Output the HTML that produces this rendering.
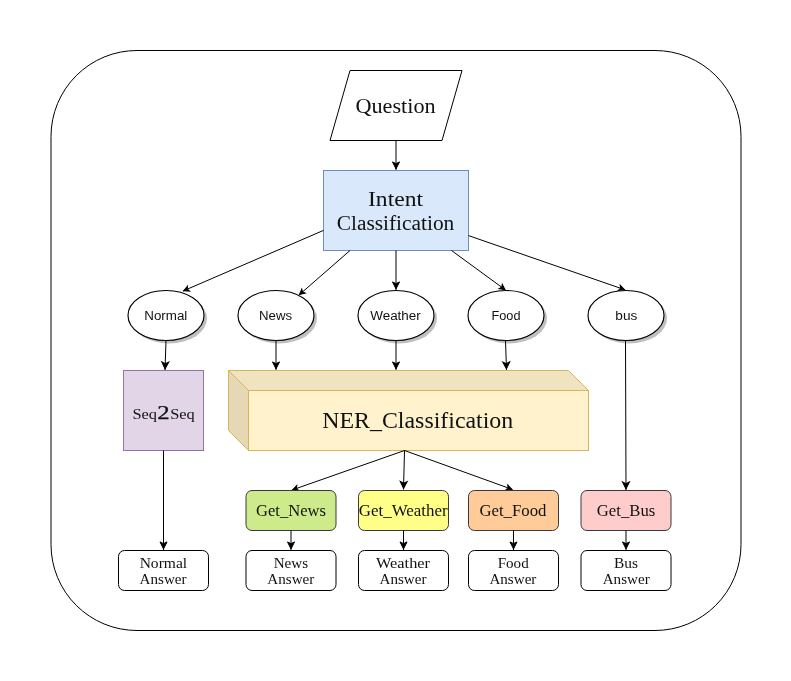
<!DOCTYPE html>
<html><head><meta charset="utf-8">
<style>
html,body{margin:0;padding:0;background:#fff;width:791px;height:681px;overflow:hidden;}
svg{display:block;will-change:transform;}
.s{font-family:"Liberation Serif",serif;fill:#111;}
.a{font-family:"Liberation Sans",sans-serif;fill:#111;}
</style></head>
<body>
<svg width="791" height="681" viewBox="0 0 791 681">
<defs>
<marker id="ar" viewBox="-2 -5 12 10" refX="8.1" refY="0" markerWidth="12" markerHeight="10" markerUnits="userSpaceOnUse" orient="auto" overflow="visible">
<path d="M7,0 L0,-3.5 L1.75,0 L0,3.5 Z" fill="#000" stroke="#000" stroke-width="1" stroke-linejoin="miter"/>
</marker>
<marker id="ar2" viewBox="-2 -5 12 10" refX="6" refY="0" markerWidth="12" markerHeight="10" markerUnits="userSpaceOnUse" orient="auto" overflow="visible">
<path d="M5.3,0 L0,-2.7 L1.3,0 L0,2.7 Z" fill="#000" stroke="#000" stroke-width="1" stroke-linejoin="miter"/>
</marker>
</defs>
<!-- outer container -->
<rect x="51" y="50.5" width="690" height="580" rx="86" ry="86" fill="none" stroke="#000" stroke-width="1"/>

<!-- Question parallelogram -->
<polygon points="350,70.5 462,70.5 442,140.5 330,140.5" fill="#fff" stroke="#000" stroke-width="1"/>
<text class="s" x="395.5" y="112.8" font-size="20" text-anchor="middle" textLength="80.2" lengthAdjust="spacingAndGlyphs">Question</text>

<!-- arrow Question -> Intent -->
<line x1="396" y1="140.5" x2="396" y2="170" stroke="#000" stroke-width="1" marker-end="url(#ar)"/>

<!-- Intent -->
<rect x="323.5" y="170.5" width="145" height="80" fill="#dae8fc" stroke="#6c8ebf"/>
<text class="s" x="395.5" y="205.7" font-size="20" text-anchor="middle" textLength="55" lengthAdjust="spacingAndGlyphs">Intent</text>
<text class="s" x="395.5" y="229.6" font-size="20" text-anchor="middle" textLength="117.5" lengthAdjust="spacingAndGlyphs">Classification</text>

<!-- arrows intent -> ellipses -->
<line x1="323.5" y1="230.4" x2="183" y2="291" stroke="#000" stroke-width="1" marker-end="url(#ar2)"/>
<line x1="350" y1="250.5" x2="299" y2="295" stroke="#000" stroke-width="1" marker-end="url(#ar2)"/>
<line x1="396" y1="250.5" x2="396" y2="290" stroke="#000" stroke-width="1" marker-end="url(#ar)"/>
<line x1="451.5" y1="250.5" x2="505.5" y2="290" stroke="#000" stroke-width="1" marker-end="url(#ar2)"/>
<line x1="468.5" y1="235.6" x2="625" y2="289.8" stroke="#000" stroke-width="1" marker-end="url(#ar2)"/>

<!-- ellipses with shadow -->
<g fill="#000" fill-opacity="0.25">
<ellipse cx="169" cy="318.5" rx="38" ry="25"/>
<ellipse cx="279" cy="318.5" rx="38" ry="25"/>
<ellipse cx="399" cy="318.5" rx="38" ry="25"/>
<ellipse cx="509" cy="318.5" rx="38" ry="25"/>
<ellipse cx="629" cy="318.5" rx="38" ry="25"/>
</g>
<g fill="#fff" stroke="#000" stroke-width="1.15">
<ellipse cx="166" cy="315.5" rx="38" ry="25"/>
<ellipse cx="276" cy="315.5" rx="38" ry="25"/>
<ellipse cx="396" cy="315.5" rx="38" ry="25"/>
<ellipse cx="506" cy="315.5" rx="38" ry="25"/>
<ellipse cx="626" cy="315.5" rx="38" ry="25"/>
</g>
<g class="a" font-size="12" text-anchor="middle">
<text x="165.8" y="319.8" textLength="43" lengthAdjust="spacingAndGlyphs">Normal</text>
<text x="275.6" y="319.8" textLength="33" lengthAdjust="spacingAndGlyphs">News</text>
<text x="395.5" y="319.8" textLength="50.5" lengthAdjust="spacingAndGlyphs">Weather</text>
<text x="506" y="319.8" textLength="29" lengthAdjust="spacingAndGlyphs">Food</text>
<text x="626.3" y="319.8" textLength="22" lengthAdjust="spacingAndGlyphs">bus</text>
</g>

<!-- ellipse -> boxes arrows -->
<line x1="166" y1="340.5" x2="165" y2="370" stroke="#000" stroke-width="1" marker-end="url(#ar)"/>
<line x1="276" y1="340.5" x2="276" y2="370" stroke="#000" stroke-width="1" marker-end="url(#ar)"/>
<line x1="396" y1="340.5" x2="396" y2="370" stroke="#000" stroke-width="1" marker-end="url(#ar)"/>
<line x1="505.5" y1="340.5" x2="506.5" y2="370" stroke="#000" stroke-width="1" marker-end="url(#ar)"/>
<line x1="625.5" y1="340.5" x2="626" y2="490" stroke="#000" stroke-width="1" marker-end="url(#ar)"/>

<!-- Seq2Seq -->
<rect x="123.5" y="370.5" width="80" height="80" fill="#e1d5e7" stroke="#9673a6"/>
<text class="s" x="132.4" y="418.8" font-size="15" textLength="24.6" lengthAdjust="spacingAndGlyphs">Seq</text>
<text class="s" x="157.2" y="419" font-size="19.5" stroke="#111" stroke-width="0.25" textLength="12.4" lengthAdjust="spacingAndGlyphs">2</text>
<text class="s" x="170.2" y="418.8" font-size="15" textLength="24.6" lengthAdjust="spacingAndGlyphs">Seq</text>
<line x1="163.5" y1="450.5" x2="163.5" y2="550" stroke="#000" stroke-width="1" marker-end="url(#ar)"/>

<!-- NER cube -->
<polygon points="228.5,370.5 568.5,370.5 588.5,390.5 248.5,390.5" fill="#f0e3c0" stroke="#d6b656"/>
<polygon points="228.5,370.5 248.5,390.5 248.5,450.5 228.5,430.5" fill="#e6d8b5" stroke="#d6b656"/>
<rect x="248.5" y="390.5" width="340" height="60" fill="#fff2cc" stroke="#d6b656"/>
<text class="s" x="417.75" y="428.4" font-size="24" text-anchor="middle" textLength="191" lengthAdjust="spacingAndGlyphs">NER_Classification</text>

<!-- NER -> Get arrows -->
<line x1="404.5" y1="450.5" x2="292" y2="490" stroke="#000" stroke-width="1" marker-end="url(#ar2)"/>
<line x1="404.5" y1="450.5" x2="403.5" y2="489.5" stroke="#000" stroke-width="1" marker-end="url(#ar)"/>
<line x1="404.5" y1="450.5" x2="512.5" y2="489.5" stroke="#000" stroke-width="1" marker-end="url(#ar2)"/>

<!-- Get boxes -->
<rect x="246" y="490.5" width="90" height="40" rx="6" fill="#cdeb8b" stroke="#36393d"/>
<rect x="358.5" y="490.5" width="90" height="40" rx="6" fill="#ffff88" stroke="#36393d"/>
<rect x="468.5" y="490.5" width="90" height="40" rx="6" fill="#ffcc99" stroke="#36393d"/>
<rect x="581" y="490.5" width="90" height="40" rx="6" fill="#ffcccc" stroke="#36393d"/>
<g class="s" font-size="16.5" text-anchor="middle">
<text x="291" y="516.2" textLength="70" lengthAdjust="spacingAndGlyphs">Get_News</text>
<text x="403.2" y="516.2" textLength="88.8" lengthAdjust="spacingAndGlyphs">Get_Weather</text>
<text x="512.9" y="516.2" textLength="67" lengthAdjust="spacingAndGlyphs">Get_Food</text>
<text x="626" y="516.2" textLength="58.5" lengthAdjust="spacingAndGlyphs">Get_Bus</text>
</g>

<!-- Get -> Answer arrows -->
<line x1="291" y1="530.5" x2="291" y2="550" stroke="#000" stroke-width="1" marker-end="url(#ar)"/>
<line x1="403.5" y1="530.5" x2="403.5" y2="550" stroke="#000" stroke-width="1" marker-end="url(#ar)"/>
<line x1="513.5" y1="530.5" x2="513.5" y2="550" stroke="#000" stroke-width="1" marker-end="url(#ar)"/>
<line x1="626" y1="530.5" x2="626" y2="550" stroke="#000" stroke-width="1" marker-end="url(#ar)"/>

<!-- Answer boxes -->
<g fill="#fff" stroke="#000" stroke-width="1">
<rect x="118.5" y="550.5" width="90" height="40" rx="6"/>
<rect x="246" y="550.5" width="90" height="40" rx="6"/>
<rect x="358.5" y="550.5" width="90" height="40" rx="6"/>
<rect x="468.5" y="550.5" width="90" height="40" rx="6"/>
<rect x="581" y="550.5" width="90" height="40" rx="6"/>
</g>
<g class="s" font-size="13.6" text-anchor="middle">
<text x="163.4" y="567.5" textLength="47.5" lengthAdjust="spacingAndGlyphs">Normal</text><text x="163.1" y="583.6" textLength="47" lengthAdjust="spacingAndGlyphs">Answer</text>
<text x="290.9" y="567.5" textLength="34.5" lengthAdjust="spacingAndGlyphs">News</text><text x="290.8" y="583.6" textLength="47" lengthAdjust="spacingAndGlyphs">Answer</text>
<text x="403" y="567.5" textLength="54" lengthAdjust="spacingAndGlyphs">Weather</text><text x="403" y="583.6" textLength="47" lengthAdjust="spacingAndGlyphs">Answer</text>
<text x="513.2" y="567.5" textLength="31" lengthAdjust="spacingAndGlyphs">Food</text><text x="512.9" y="583.6" textLength="47" lengthAdjust="spacingAndGlyphs">Answer</text>
<text x="626" y="567.5" textLength="24" lengthAdjust="spacingAndGlyphs">Bus</text><text x="626.2" y="583.6" textLength="47" lengthAdjust="spacingAndGlyphs">Answer</text>
</g>
</svg>
</body></html>
